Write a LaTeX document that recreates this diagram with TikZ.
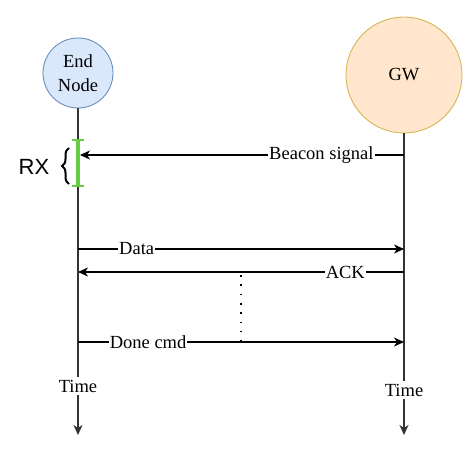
\documentclass[tikz,border=0pt]{standalone}
\usepackage{fontspec}
\setmainfont{Liberation Serif}
\setsansfont{Liberation Sans}
\usetikzlibrary{arrows.meta,decorations.pathreplacing}
\definecolor{enfill}{HTML}{DAE8FC}
\definecolor{endraw}{HTML}{6C8EBF}
\definecolor{gwfill}{HTML}{FFE6CC}
\definecolor{gwdraw}{HTML}{D6B656}
\definecolor{rxgreen}{HTML}{66CC44}
\definecolor{lifegray}{HTML}{333333}
\begin{document}
\begin{tikzpicture}[x=1pt,y=-1pt,
  every node/.style={font=\fontsize{18.5}{24}\selectfont},
  actor/.style={circle,line width=0.9pt,inner sep=0pt,align=center},
  life/.style={draw=lifegray,line width=1.2pt},
  tip/.style={-{Stealth[length=10pt,width=9pt,inset=3pt]}},
  msg/.style={draw=black,line width=1.1pt,tip},
  lbl/.style={fill=white,inner sep=1pt},
  tlbl/.style={inner sep=3pt}]
\useasboundingbox (0,0) rectangle (474,453);
% actors
\node[actor,fill=enfill,draw=endraw,minimum size=70pt] (en) at (78,73) {End\\Node};
\node[actor,fill=gwfill,draw=gwdraw,minimum size=116pt] (gw) at (404,75) {GW};
% lifelines
\node[tlbl] (t1) at (78,386) {Time};
\node[tlbl] (t2) at (404,390) {Time};
\coordinate (e1) at (78,435);
\coordinate (e2) at (404,435);
\draw[life] (en) -- (t1);
\draw[life] (gw) -- (t2);
\draw[life,tip] (t1) -- (e1);
\draw[life,tip] (t2) -- (e2);
% RX bar
\coordinate (rxa) at (78,140);
\coordinate (rxb) at (78,186);
\draw[rxgreen,line width=3.8pt] (rxa) -- (rxb);
\draw[rxgreen,line width=2.5pt] ([xshift=-6pt]rxa) -- ([xshift=6pt]rxa);
\draw[rxgreen,line width=2.5pt] ([xshift=-6pt]rxb) -- ([xshift=6pt]rxb);
\coordinate (bra) at (69,148);
\coordinate (brb) at (69,184);
\draw[line width=2pt,decorate,decoration={brace,amplitude=7pt}] (brb) -- (bra);
\node[font=\sffamily\fontsize{22}{24}\selectfont,inner sep=0pt] (rx) at (34,167) {RX};
% messages
\coordinate (bg) at (404,155);
\coordinate (be) at (80,155);
\draw[msg] (bg) -- node[lbl,pos=0.255] (lb) {Beacon signal} (be);
\coordinate (d1) at (78,249);
\coordinate (d2) at (404,249);
\draw[msg] (d1) -- node[lbl,pos=0.18] (ld) {Data} (d2);
\coordinate (a1) at (404,272);
\coordinate (a2) at (78,272);
\draw[msg] (a1) -- node[lbl,pos=0.18] (la) {ACK} (a2);
\coordinate (c1) at (78,342);
\coordinate (c2) at (404,342);
\draw[msg] (c1) -- node[lbl,pos=0.215] (lc) {Done cmd} (c2);
% dotted
\coordinate (p1) at (241,275);
\coordinate (p2) at (241,342);
\draw[line width=1.8pt,dash pattern=on 1.6pt off 7.7pt] (p1) -- (p2);
\end{tikzpicture}
\end{document}
